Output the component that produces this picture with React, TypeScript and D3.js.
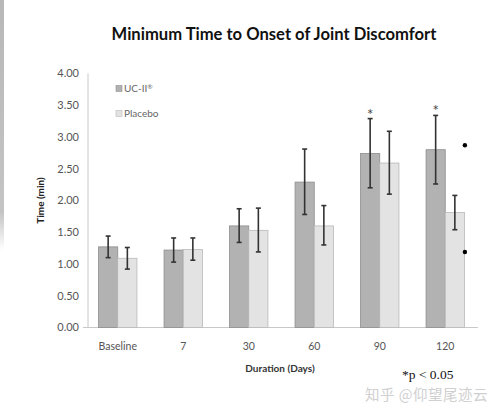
import React from "react";
import * as d3 from "d3";

const categories = ["Baseline", "7", "30", "60", "90", "120"];
const seriesNames = ["UC-II®", "Placebo"];
const ucMean = [1.27, 1.22, 1.6, 2.29, 2.74, 2.8];
const ucLow = [1.1, 1.03, 1.34, 1.78, 2.2, 2.26];
const ucHigh = [1.44, 1.41, 1.87, 2.81, 3.29, 3.34];
const plMean = [1.09, 1.23, 1.53, 1.6, 2.59, 1.81];
const plLow = [0.92, 1.06, 1.19, 1.3, 2.1, 1.54];
const plHigh = [1.26, 1.41, 1.88, 1.92, 3.09, 2.08];
const significant = ["90", "120"];
const yTicks = [0, 0.5, 1, 1.5, 2, 2.5, 3, 3.5, 4];
const dotValues = [2.87, 1.19];

const W = 503;
const H = 415;

export default function App() {
  const x = d3.scaleBand<string>().domain(categories).range([85, 478]).paddingInner(0).paddingOuter(0);
  const half = 19.2;
  const sub = d3
    .scaleBand<string>()
    .domain(seriesNames)
    .range([x.bandwidth() / 2 - half, x.bandwidth() / 2 + half])
    .paddingInner(0)
    .paddingOuter(0);
  const y = d3.scaleLinear().domain([0, 4]).range([327.5, 73.5]);

  const series = [
    { name: seriesNames[0], mean: ucMean, low: ucLow, high: ucHigh, fill: "#b2b2b2", stroke: "#8e8e8e" },
    { name: seriesNames[1], mean: plMean, low: plLow, high: plHigh, fill: "#e3e3e3", stroke: "#b9b9b9" },
  ];
  const sans = "Lato, 'Open Sans', sans-serif";

  const legendLabel = (name: string) => {
    if (name.endsWith("®")) {
      return (
        <>
          {name.slice(0, -1)}
          <tspan fontSize={6.5} dy={-3.5}>®</tspan>
        </>
      );
    }
    return name;
  };

  return (
    <svg width={W} height={H} style={{ position: "absolute", left: 0, top: 0, background: "#fff" }}>
      <defs>
        <linearGradient id="strip" x1="0" y1="0" x2="0" y2="1">
          <stop offset="0" stopColor="#b8b8b8" />
          <stop offset="0.85" stopColor="#c4c4c4" />
          <stop offset="1" stopColor="#ffffff" />
        </linearGradient>
      </defs>
      <rect x={0} y={0} width={4} height={250} fill="url(#strip)" />
      <text x={274} y={40} textAnchor="middle" fontFamily={sans} fontWeight="bold" fontSize={16.6} fill="#111">
        Minimum Time to Onset of Joint Discomfort
      </text>

      {/* axes */}
      <line x1={88} x2={88} y1={y(4)} y2={y(0)} stroke="#c8c8c8" strokeWidth={1} />
      <line x1={83} x2={478} y1={y(0)} y2={y(0)} stroke="#c8c8c8" strokeWidth={1} />
      {yTicks.map((t) => (
        <text key={t} x={79} y={y(t)} dy="0.35em" textAnchor="end" fontFamily={sans} fontSize={11} fill="#555">
          {t.toFixed(2)}
        </text>
      ))}
      <text transform={`translate(44,${y(2)}) rotate(-90)`} textAnchor="middle" fontFamily={sans} fontWeight="bold" fontSize={10} fill="#222">
        Time (min)
      </text>

      {/* bars */}
      {series.map((s) =>
        categories.map((c, i) => {
          const bx = (x(c) as number) + (sub(s.name) as number);
          const bw = sub.bandwidth();
          return (
            <rect key={s.name + c} x={bx} y={y(s.mean[i])} width={bw} height={y(0) - y(s.mean[i])} fill={s.fill} stroke={s.stroke} strokeWidth={0.8} />
          );
        })
      )}
      {/* error bars */}
      {series.map((s) =>
        categories.map((c, i) => {
          const cx = (x(c) as number) + (sub(s.name) as number) + sub.bandwidth() / 2;
          return (
            <g key={"e" + s.name + c} stroke="#333" strokeWidth={1.6}>
              <line x1={cx} x2={cx} y1={y(s.high[i])} y2={y(s.low[i])} />
              <line x1={cx - 2.5} x2={cx + 2.5} y1={y(s.high[i])} y2={y(s.high[i])} />
              <line x1={cx - 2.5} x2={cx + 2.5} y1={y(s.low[i])} y2={y(s.low[i])} />
            </g>
          );
        })
      )}
      {/* significance stars */}
      {significant.map((c) => {
        const i = categories.indexOf(c);
        const cx = (x(c) as number) + (sub(seriesNames[0]) as number) + sub.bandwidth() / 2;
        return (
          <text key={"s" + c} x={cx} y={y(ucHigh[i]) + 1} textAnchor="middle" fontFamily={sans} fontSize={15} fill="#444">
            *
          </text>
        );
      })}
      {/* dots */}
      {dotValues.map((v, k) => (
        <circle key={"d" + k} cx={(x("120") as number) + x.bandwidth() * 0.8} cy={y(v)} r={2.2} fill="#000" />
      ))}

      {/* x ticks */}
      {categories.map((c) => (
        <text key={"t" + c} x={(x(c) as number) + x.bandwidth() / 2} y={350} textAnchor="middle" fontFamily={sans} fontSize={10.5} fill="#555">
          {c}
        </text>
      ))}
      <text x={280} y={372} textAnchor="middle" fontFamily={sans} fontWeight="bold" fontSize={10} fill="#333">
        Duration (Days)
      </text>

      {/* legend */}
      {series.map((s, k) => (
        <g key={"l" + s.name}>
          <rect x={116} y={85.5 + k * 25} width={6} height={6} fill={s.fill} stroke={s.stroke} strokeWidth={0.6} />
          <text x={124} y={92 + k * 25} fontFamily={sans} fontSize={10} fill="#666">
            {legendLabel(s.name)}
          </text>
        </g>
      ))}

      <text x={402} y={379} fontFamily="'Liberation Serif', 'DejaVu Serif', serif" fontSize={13.5} fill="#111">
        *p &lt; 0.05
      </text>
      <text x={365} y={400} fontFamily="'Noto Sans CJK SC', sans-serif" fontSize={14.5} letterSpacing={0.5} fill="#d0d0d0">
        知乎 @仰望尾迹云
      </text>
    </svg>
  );
}
